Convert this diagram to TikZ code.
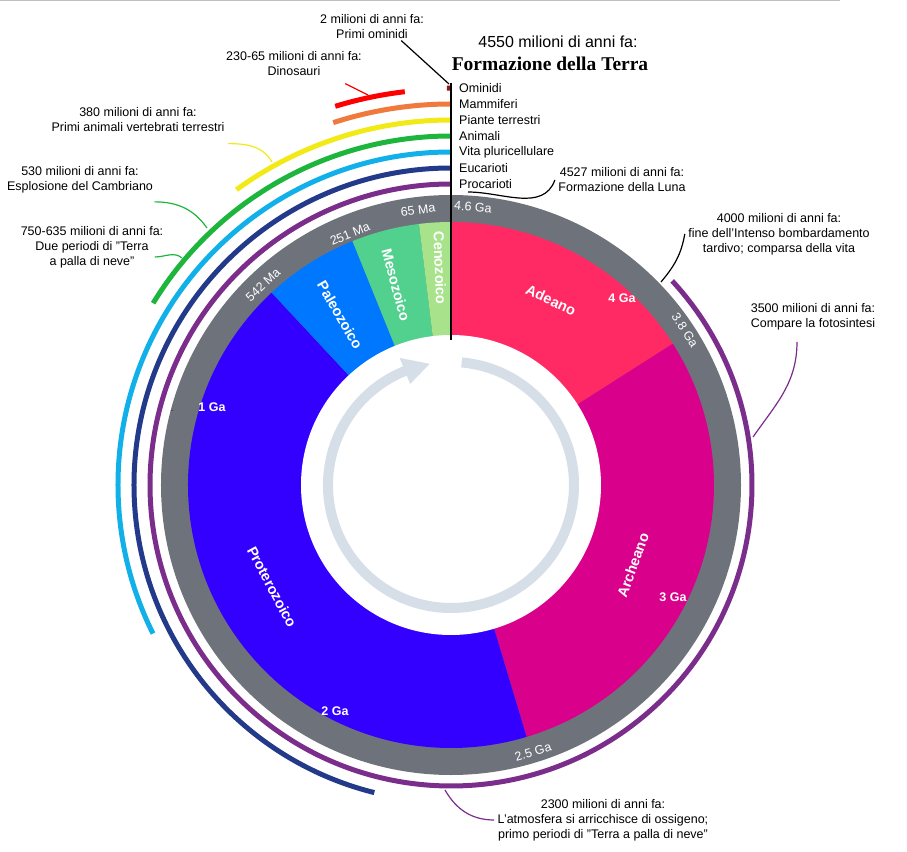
\documentclass[tikz,border=0pt]{standalone}
\usepackage{fontspec}
\setmainfont{Liberation Sans}
\newfontfamily\serifb{Liberation Serif}
\usetikzlibrary{positioning}

\definecolor{ringgray}{HTML}{6E737B}
\definecolor{cAdeano}{HTML}{FF2A64}
\definecolor{cArcheano}{HTML}{D9008B}
\definecolor{cProtero}{HTML}{3300FF}
\definecolor{cPaleo}{HTML}{0077FF}
\definecolor{cMeso}{HTML}{52D08E}
\definecolor{cCeno}{HTML}{A8E28A}
\definecolor{cArrow}{HTML}{D6DEE8}
\definecolor{cProc}{HTML}{7B2D8B}
\definecolor{cEuc}{HTML}{233A8B}
\definecolor{cVita}{HTML}{12B0E8}
\definecolor{cAnim}{HTML}{1DB53B}
\definecolor{cPiant}{HTML}{F2EA17}
\definecolor{cMamm}{HTML}{F07A3C}
\definecolor{cDino}{HTML}{FF0000}
\definecolor{cOmin}{HTML}{8B1A1A}

\tikzset{
  era/.style={text=white, font=\bfseries\fontsize{14.5}{16}\selectfont},
  gaint/.style={text=white, font=\bfseries\fontsize{12.5}{14}\selectfont},
  ringlbl/.style={text=white, font=\fontsize{12.5}{14}\selectfont},
  note/.style={align=center, font=\fontsize{12.5}{15}\selectfont},
  legend/.style={anchor=west, font=\fontsize{12.5}{14}\selectfont, inner sep=0pt},
  life/.style={line width=5pt},
  link/.style={line width=1.2pt}
}

\begin{document}
\begin{tikzpicture}[x=1pt,y=1pt]
  \useasboundingbox (-451,-366) rectangle (456,485);
  \draw[gray!50, line width=1pt] (-451,484) -- (389,484);

  % Gray ring
  \fill[ringgray] (0,0) circle (290);

  % Eras
  \fill[cAdeano]   (0,0) -- (32.5:263) arc[start angle=32.5, end angle=90, radius=263] -- cycle;
  \fill[cArcheano] (0,0) -- (-73.3:263) arc[start angle=-73.3, end angle=32.5, radius=263] -- cycle;
  \fill[cProtero]  (0,0) -- (133:263) arc[start angle=133, end angle=286.7, radius=263] -- cycle;
  \fill[cPaleo]    (0,0) -- (112:263) arc[start angle=112, end angle=133, radius=263] -- cycle;
  \fill[cMeso]     (0,0) -- (97:263) arc[start angle=97, end angle=112, radius=263] -- cycle;
  \fill[cCeno]     (0,0) -- (90:263) arc[start angle=90, end angle=97, radius=263] -- cycle;
  \fill[white] (0,0) circle (150);

  % Arrow of time
  \draw[cArrow, line width=10pt] (85:123) arc[start angle=85, end angle=-249, radius=123];
  \fill[cArrow] (100:123) -- (112:137) -- (112:109) -- cycle;

  % Life arcs
  \draw[life, cProc]  (42.7:301) arc[start angle=42.7, end angle=-270, radius=301];
  \draw[life, cEuc]   (90:317) arc[start angle=90, end angle=256, radius=317];
  \draw[life, cVita]  (90:333) arc[start angle=90, end angle=206.5, radius=333];
  \draw[life, cAnim]  (90:349) arc[start angle=90, end angle=148.6, radius=349];
  \draw[life, cPiant] (90:365) arc[start angle=90, end angle=126, radius=365];
  \draw[life, cMamm]  (90:381) arc[start angle=90, end angle=108, radius=381];
  \draw[life, cDino]  (96.7:396) arc[start angle=96.7, end angle=107, radius=396];
  \draw[life, cOmin]  (90:397) arc[start angle=90, end angle=90.6, radius=397];

  % Time axis
  \draw[line width=2.5pt] (0,402) -- (0,145);

  % Ring labels
  \node[ringlbl, rotate=-5] (g46) at (22,278) {4.6 Ga};
  \node[ringlbl, rotate=7] (m65) at (-33,275) {65 Ma};
  \node[ringlbl, rotate=22] (m251) at (-101,251) {251 Ma};
  \node[ringlbl, rotate=43] (m542) at (-188,200) {542 Ma};
  \node[ringlbl, rotate=-57] (g38) at (234,155) {3.8 Ga};
  \node[ringlbl, rotate=17] (g25) at (82,-267) {2.5 Ga};

  \node[gaint] (g4) at (171,187) {4 Ga};
  \node[gaint] (g1) at (-239,78) {1 Ga};
  \node[gaint] (g2) at (-116,-226) {2 Ga};
  \node[gaint] (g3) at (222,-112) {3 Ga};
  \node[font=\tiny] (tilde) at (-279,73) {\char`~};

  % Era names
  \node[era, rotate=-25] (adeano) at (100,185) {Adeano};
  \node[era, rotate=70] (archeano) at (182,-80) {Archeano};
  \node[era, rotate=-62] (protero) at (-179,-102) {Proterozoico};
  \node[era, rotate=-60] (paleo) at (-111,170) {Paleozoico};
  \node[era, rotate=-75] (meso) at (-55,200) {Mesozoico};
  \node[era, rotate=-88] (ceno) at (-11,217) {Cenozoico};

  % Legend
  \node[legend] (lOm) at (8,397) {Ominidi};
  \node[legend] (lMa) at (8,381) {Mammiferi};
  \node[legend] (lPi) at (8,365) {Piante terrestri};
  \node[legend] (lAn) at (8,349) {Animali};
  \node[legend] (lVi) at (8,333) {Vita pluricellulare};
  \node[legend] (lEu) at (8,317) {Eucarioti};
  \node[legend] (lPr) at (8,301) {Procarioti};

  % Notes
  \node[note] (nOmin) at (-79,458) {2 milioni di anni fa:\\Primi ominidi};
  \node[font=\fontsize{16}{18}\selectfont] (nTerraA) at (107,443) {4550 milioni di anni fa:};
  \node[font=\serifb\bfseries\fontsize{19.5}{21}\selectfont] (nTerraB) at (99,421) {Formazione della Terra};
  \node[note] (nDino) at (-157,421) {230-65 milioni di anni fa:\\Dinosauri};
  \node[note] (nVert) at (-313,365) {380 milioni di anni fa:\\Primi animali vertebrati terrestri};
  \node[note] (nCamb) at (-371,305) {530 milioni di anni fa:\\Esplosione del Cambriano};
  \node[note] (nNeve) at (-359,238) {750-635 milioni di anni fa:\\Due periodi di "Terra\\a palla di neve"};
  \node[note] (nLuna) at (171,305) {4527 milioni di anni fa:\\Formazione della Luna};
  \node[note] (nBomb) at (328,251) {4000 milioni di anni fa:\\fine dell'Intenso bombardamento\\tardivo; comparsa della vita};
  \node[note] (nFoto) at (362,168) {3500 milioni di anni fa:\\Compare la fotosintesi};
  \node[note] (nOssi) at (152,-335) {2300 milioni di anni fa:\\L'atmosfera si arricchisce di ossigeno;\\primo periodi di "Terra a palla di neve"};

  % Connector ends
  \coordinate (eOmin) at (-2,401);
  \coordinate (eDino) at (-83,390);
  \coordinate (eVert) at (-179,323);
  \coordinate (eCamb) at (-244,257);
  \coordinate (eNeve) at (-269,227);
  \coordinate (eLuna) at (17,293);
  \coordinate (eBomb) at (210,203);
  \coordinate (eFoto) at (302,48);
  \coordinate (eOssi) at (-6,-305);

  % Connectors
  \draw[link] (nOmin.south east) ++(-26,2) -- (eOmin);
  \draw[link, cDino] (nDino.south east) ++(-20,-4) -- (eDino);
  \draw[link, cPiant] (nVert.south east) ++(0,-8) to[out=0, in=120] (eVert);
  \draw[link, cAnim] (nCamb.south east) ++(-2,-5) to[out=0, in=125] (eCamb);
  \draw[link, cAnim] (nNeve.east) ++(-12,-10) to[out=0, in=140] (eNeve);
  \draw[link] (eLuna) to[out=0, in=-110] (nLuna.west);
  \draw[link] (eBomb) to[out=50, in=-100] (nBomb.west);
  \draw[link, cProc] (nFoto.south) ++(-16,-8) to[out=-90, in=55] (eFoto);
  \draw[link, cProc] (eOssi) to[out=-60, in=180] (nOssi.west);
\end{tikzpicture}
\end{document}
